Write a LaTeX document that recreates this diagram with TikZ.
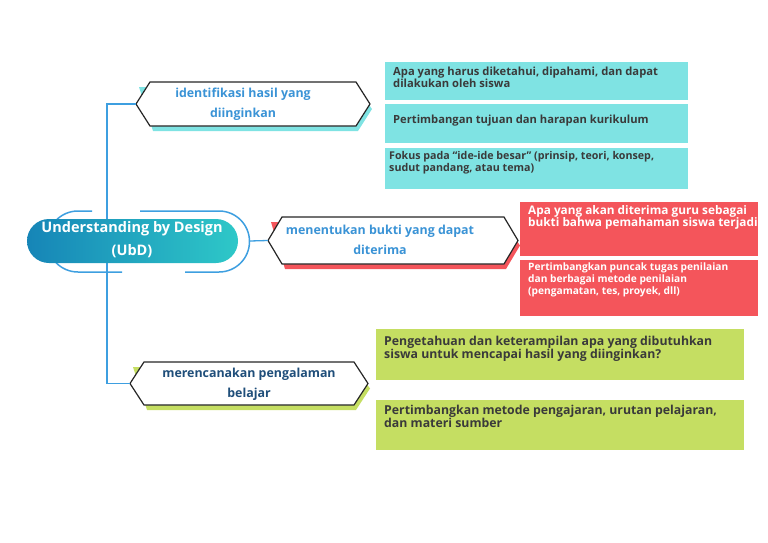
\documentclass[tikz,border=0pt]{standalone}
\usepackage{fontspec}
\setmainfont{Open Sans}
\definecolor{cy}{HTML}{7FE3E3}
\definecolor{rd}{HTML}{F4555B}
\definecolor{gr}{HTML}{C5DE62}
\definecolor{ln}{HTML}{3E9FE0}
\definecolor{bt}{HTML}{3A93D6}
\definecolor{dk}{HTML}{1F4E7A}
\definecolor{tx}{HTML}{3A3A3A}
\definecolor{ga}{HTML}{1685B7}
\definecolor{gb}{HTML}{2EC8C8}
\tikzset{
 box/.style={anchor=north west,inner xsep=6pt,inner ysep=0pt,align=left,font=\bfseries,text=tx},
 lbl/.style={align=center,font=\fontsize{12.4}{20}\selectfont\bfseries},
 conn/.style={ln,line width=1.3pt},
}
\newcommand{\hexa}[6]{% x1 y1 x2 y2 name shadowcolor
 \fill[#6] (#1+3,#2+5)--(#1+17,#2+5)--(#3-14,#2+5)--(#3+2,#4/2+#2/2+5)--(#3-12,#4+5)--(#1+17,#4+5)--cycle;
 \draw[fill=white,line width=1.2pt,draw=black!85] (#1,#4/2+#2/2)--(#1+14,#2)--(#3-14,#2)--(#3,#4/2+#2/2)--(#3-14,#4)--(#1+14,#4)--cycle;
 \coordinate (#5L) at (#1,#4/2+#2/2);
 \coordinate (#5R) at (#3,#4/2+#2/2);
}
\begin{document}
\begin{tikzpicture}[x=1pt,y=-1pt]
\useasboundingbox (0,0) rectangle (768,543);
% boxes
\fill[cy] (385,62) rectangle (688,100);
\fill[cy] (385,104) rectangle (688,143);
\fill[cy] (385,148) rectangle (688,189);
\fill[rd] (520,202) rectangle (758,256);
\fill[rd] (520,260) rectangle (758,316);
\fill[gr] (376,329) rectangle (744,380);
\fill[gr] (376,400) rectangle (744,450);
\node[box] (c1) at (387,67) {\fontsize{11.2}{16}\selectfont Apa yang harus diketahui, dipahami, dan dapat\\\fontsize{11.2}{16}\selectfont dilakukan oleh siswa};
\node[box] (c2) at (387,115) {\fontsize{11.2}{16}\selectfont Pertimbangan tujuan dan harapan kurikulum};
\node[box] (c3) at (383,151) {\fontsize{10.7}{17}\selectfont Fokus pada “ide-ide besar” (prinsip, teori, konsep,\\\fontsize{10.7}{17}\selectfont sudut pandang, atau tema)};
\node[box,text=white] (r1) at (522,205) {\fontsize{11.8}{19}\selectfont Apa yang akan diterima guru sebagai\\\fontsize{11.8}{19}\selectfont bukti bahwa pemahaman siswa terjadi};
\node[box,text=white] (r2) at (522,263) {\fontsize{10.2}{16.5}\selectfont Pertimbangkan puncak tugas penilaian\\\fontsize{10.2}{16.5}\selectfont dan berbagai metode penilaian\\\fontsize{10.2}{16.5}\selectfont (pengamatan, tes, proyek, dll)};
\node[box] (g1) at (378,336) {\fontsize{12.3}{22}\selectfont Pengetahuan dan keterampilan apa yang dibutuhkan\\\fontsize{12.3}{22}\selectfont siswa untuk mencapai hasil yang diinginkan?};
\node[box] (g2) at (378,405) {\fontsize{12.3}{22}\selectfont Pertimbangkan metode pengajaran, urutan pelajaran,\\\fontsize{12.3}{22}\selectfont dan materi sumber};
% hexagons
\hexa{136}{82}{370}{126}{h1}{cy}
\hexa{268}{217}{518}{264}{h2}{rd}
\hexa{130}{362}{368}{405}{h3}{gr}
\node[lbl,text=bt] (t1) at (243,104) {identifikasi hasil yang\\diinginkan};
\node[lbl,text=bt] (t2) at (380,240) {menentukan bukti yang dapat\\diterima};
\node[lbl,text=dk] (t3) at (249,384) {merencanakan pengalaman\\belajar};
% main
\draw[conn] (h1L) -| (107,240) ;
\draw[conn] (h3L) -| (107,242);
\draw[ln,line width=1.5pt] (92,211) -- (78,211) arc (270:90:30.5) -- (122,272);
\draw[ln,line width=1.5pt] (140,211) -- (219,211) arc (-90:90:30.5) -- (185,272);
\draw[conn] (250,241) -- (h2L);
\shade[left color=ga,right color=gb,rounded corners=22pt] (27,219) rectangle (238,263);
\node[lbl,text=white,font=\fontsize{14.5}{23}\selectfont\bfseries] (m) at (132,240) {Understanding by Design\\(UbD)};
\end{tikzpicture}
\end{document}
